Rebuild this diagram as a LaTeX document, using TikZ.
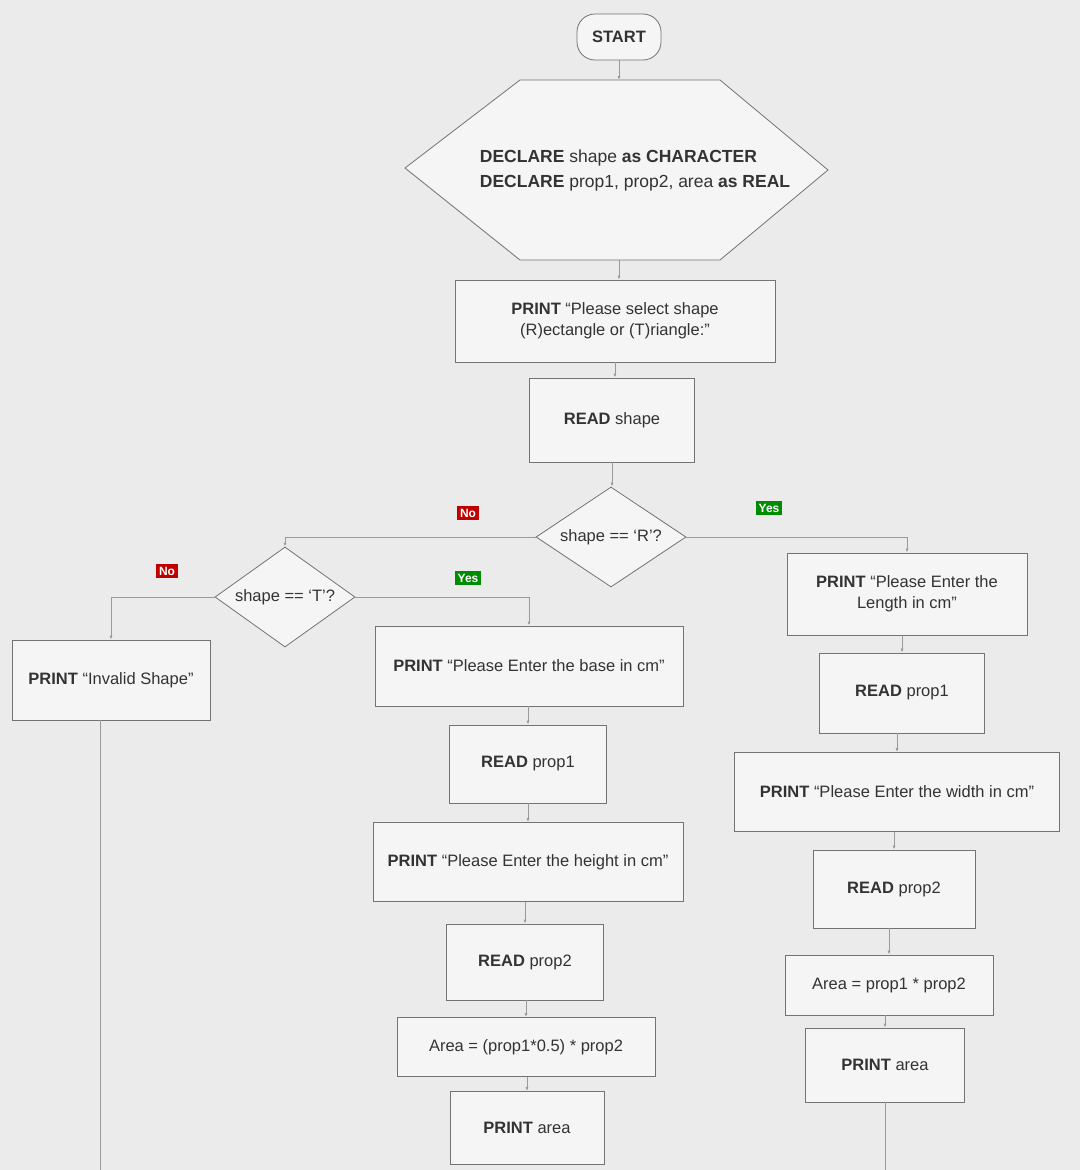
\documentclass[tikz,border=0pt]{standalone}
\usepackage{fontspec}
\setmainfont{Liberation Sans}
\usetikzlibrary{arrows.meta,shapes.geometric}
\begin{document}
\begin{tikzpicture}[x=1pt,y=-1pt,
  box/.style={draw=black!55,fill=white!96!black,line width=0.8pt,inner sep=0pt,align=center,font=\fontsize{16.5}{21}\selectfont,text=black!80},
  dia/.style={draw=black!55,fill=white!96!black,line width=0.8pt,diamond,aspect=1.5,inner sep=1pt,font=\fontsize{16.5}{21}\selectfont,text=black!80},
  conn/.style={draw=black!40,line width=0.8pt,-{Latex[length=4pt,width=3pt]}},
  plain/.style={draw=black!40,line width=0.8pt},
  lab/.style={font=\fontsize{12}{14}\selectfont\bfseries,text=white,inner sep=3pt}]
\fill[black!8] (0,0) rectangle (1080,1170);
\useasboundingbox (0,0) rectangle (1080,1170);
% start
\node[box,rounded corners=18pt,minimum width=84pt,minimum height=46pt] (start) at (619,37) {\textbf{START}};
% hexagon
\draw[draw=black!55,fill=white!96!black,line width=0.8pt] (405,168)--(520,80)--(720,80)--(828,170)--(720,260)--(520,260)--cycle;
\coordinate (hexT) at (619,80); \coordinate (hexB) at (619,260);
\node[align=left,font=\fontsize{17.5}{25}\selectfont,text=black!80] (hex) at (635,170) {\textbf{DECLARE} shape \textbf{as CHARACTER}\\\textbf{DECLARE} prop1, prop2, area \textbf{as REAL}};
\node[box,minimum width=320pt,minimum height=82pt] (p1) at (615,321) {\textbf{PRINT} “Please select shape\\(R)ectangle or (T)riangle:”};
\node[box,minimum width=165pt,minimum height=84pt] (rs) at (612,420) {\textbf{READ} shape};
\node[dia,minimum width=150pt,minimum height=100pt] (dr) at (611,537) {shape == ‘R’?};
\node[dia,minimum width=140pt,minimum height=100pt] (dt) at (285,597) {shape == ‘T’?};
\node[lab,fill=red!75!black] (nor) at (468,513) {No};
\node[lab,fill=green!55!black] (yesr) at (769,508) {Yes};
\node[lab,fill=red!75!black] (not) at (167,571) {No};
\node[lab,fill=green!55!black] (yest) at (468,578) {Yes};
% right column
\node[box,minimum width=240pt,minimum height=82pt] (r1) at (907,594) {\textbf{PRINT} “Please Enter the\\Length in cm”};
\node[box,minimum width=165pt,minimum height=80pt] (r2) at (902,693) {\textbf{READ} prop1};
\node[box,minimum width=325pt,minimum height=79pt] (r3) at (897,792) {\textbf{PRINT} “Please Enter the width in cm”};
\node[box,minimum width=162pt,minimum height=78pt] (r4) at (894,889) {\textbf{READ} prop2};
\node[box,minimum width=208pt,minimum height=60pt] (r5) at (889,985) {Area = prop1 * prop2};
\node[box,minimum width=159pt,minimum height=74pt] (r6) at (885,1065) {\textbf{PRINT} area};
\coordinate (rend) at (882,1170);
% middle column
\node[box,minimum width=308pt,minimum height=80pt] (m1) at (529,666) {\textbf{PRINT} “Please Enter the base in cm”};
\node[box,minimum width=157pt,minimum height=78pt] (m2) at (528,764) {\textbf{READ} prop1};
\node[box,minimum width=310pt,minimum height=79pt] (m3) at (528,862) {\textbf{PRINT} “Please Enter the height in cm”};
\node[box,minimum width=157pt,minimum height=76pt] (m4) at (525,962) {\textbf{READ} prop2};
\node[box,minimum width=258pt,minimum height=59pt] (m5) at (526,1047) {Area = (prop1*0.5) * prop2};
\node[box,minimum width=154pt,minimum height=73pt] (m6) at (527,1128) {\textbf{PRINT} area};
% left
\node[box,minimum width=198pt,minimum height=80pt] (inv) at (111,680) {\textbf{PRINT} “Invalid Shape”};
\coordinate (lend) at (100,1170);
% connectors
\draw[conn] (start.south) -- (start.south |- hexT);
\draw[conn] (hexB) -- (hexB |- p1.north);
\draw[conn] (p1.south) -- (p1.south |- rs.north);
\draw[conn] (rs.south) -- (rs.south |- dr.north);
\draw[conn] (dr.west) -| (dt.north);
\draw[conn] (dr.east) -| (r1.north);
\draw[conn] (dt.west) -| (inv.north);
\draw[conn] (dt.east) -| (m1.north);
\draw[conn] (r1.south -| r2) -- (r2.north);
\draw[conn] (r2.south -| r3) -- (r3.north);
\draw[conn] (r3.south -| r4) -- (r4.north);
\draw[conn] (r4.south -| r5) -- (r5.north);
\draw[conn] (r5.south -| r6) -- (r6.north);
\draw[plain] (r6.south) -- (r6.south |- rend);
\draw[conn] (m1.south -| m2) -- (m2.north);
\draw[conn] (m2.south -| m3) -- (m3.north);
\draw[conn] (m3.south -| m4) -- (m4.north);
\draw[conn] (m4.south -| m5) -- (m5.north);
\draw[conn] (m5.south -| m6) -- (m6.north);
\draw[plain] (inv.south -| lend) -- (lend);
\end{tikzpicture}
\end{document}
